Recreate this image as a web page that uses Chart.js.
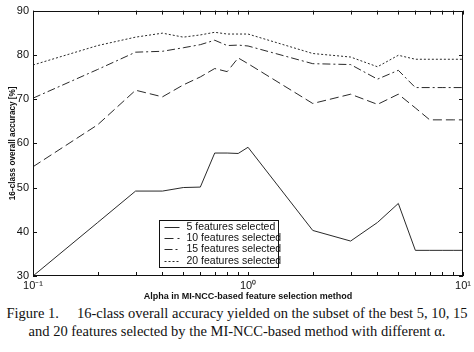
<!DOCTYPE html>
<html>
<head>
<meta charset="utf-8">
<script src="https://cdn.jsdelivr.net/npm/chart.js@4/dist/chart.umd.min.js"></script>
<style>
  body { margin: 0; background: #fff; }
  #wrap { position: relative; width: 474px; height: 303px; }
  #caption {
    width: 474px; text-align: center; font-family: "Liberation Serif", serif;
    font-size: 14.5px; line-height: 18px; color: #111; white-space: pre;
    margin-top: 1px;
  }
</style>
</head>
<body>
<div id="wrap"><canvas id="accChart"></canvas></div>
<div id="caption">Figure 1.     16-class overall accuracy yielded on the subset of the best 5, 10, 15
and 20 features selected by the MI-NCC-based method with different α.</div>
<script>
// values
const alphas = [0.1, 0.2, 0.3, 0.4, 0.5, 0.6, 0.7, 0.8, 0.9, 1, 2, 3, 4, 5, 6, 7, 8, 9, 10];
const feat5  = [30.0, 42.1, 49.2, 49.2, 50.0, 50.1, 57.8, 57.8, 57.7, 59.1, 40.3, 37.9, 42.1, 46.4, 35.8, 35.8, 35.8, 35.8, 35.8];
const feat10 = [54.7, 64.2, 72.0, 70.5, 73.2, 75.0, 76.9, 76.2, 79.3, 78.0, 69.0, 71.1, 68.8, 71.1, 68.0, 65.3, 65.3, 65.3, 65.3];
const feat15 = [70.2, 76.7, 80.6, 80.8, 81.6, 82.3, 83.3, 82.1, 82.2, 82.0, 78.0, 77.8, 74.5, 76.5, 72.6, 72.6, 72.6, 72.6, 72.6];
const feat20 = [77.7, 82.1, 84.0, 84.9, 84.0, 84.5, 85.1, 84.7, 84.7, 84.7, 80.3, 79.5, 77.3, 79.9, 79.0, 79.0, 79.0, 79.0, 79.0];
const seriesNames = ['5 features selected', '10 features selected', '15 features selected', '20 features selected'];
const xTicks = [0.1, 0.2, 0.3, 0.4, 0.5, 0.6, 0.7, 0.8, 0.9, 1, 2, 3, 4, 5, 6, 7, 8, 9, 10];
const xTickLabels = { 0.1: '10⁻¹', 1: '10⁰', 10: '10¹' };
const yTicks = [30, 40, 50, 60, 70, 80, 90];

const dashes = [[], [9, 4], [8, 3, 2, 3], [2, 2]];
const lineColor = '#2a2a2a';

function pts(vals) {
    return alphas.map((a, i) => ({ x: a, y: vals[i] }));
}

// matlab style box, inward ticks and legend inside the axes
const matlabFrame = {
    id: 'matlabFrame',
    afterDraw(chart) {
        const { ctx, chartArea: a, scales } = chart;
        ctx.save();
        ctx.strokeStyle = '#111';
        ctx.lineWidth = 1;
        ctx.setLineDash([]);
        ctx.strokeRect(Math.round(a.left) + 0.5, Math.round(a.top) + 0.5,
                       Math.round(a.width) - 1, Math.round(a.height) - 1);
        ctx.beginPath();
        scales.x.ticks.forEach(t => {
            const px = Math.round(scales.x.getPixelForValue(t.value)) + 0.5;
            ctx.moveTo(px, a.bottom); ctx.lineTo(px, a.bottom - 4);
            ctx.moveTo(px, a.top); ctx.lineTo(px, a.top + 4);
        });
        scales.y.ticks.forEach(t => {
            const py = Math.round(scales.y.getPixelForValue(t.value)) + 0.5;
            ctx.moveTo(a.left, py); ctx.lineTo(a.left + 4, py);
            ctx.moveTo(a.right, py); ctx.lineTo(a.right - 4, py);
        });
        ctx.stroke();

        // legend box
        const bx = Math.round(a.left + 126) + 0.5, by = Math.round(a.top + 209) + 0.5;
        const bw = 119, bh = 47;
        ctx.fillStyle = '#fff';
        ctx.fillRect(bx, by, bw, bh);
        ctx.strokeRect(bx, by, bw, bh);
        ctx.font = '10.5px "Liberation Sans", Arial, sans-serif';
        ctx.textBaseline = 'middle';
        chart.data.datasets.forEach((ds, i) => {
            const ly = Math.round(by + 6.5 + i * 11.2) + 0.5;
            ctx.strokeStyle = lineColor;
            ctx.setLineDash(ds.borderDash);
            ctx.beginPath();
            ctx.moveTo(bx + 5, ly); ctx.lineTo(bx + 20, ly);
            ctx.stroke();
            ctx.setLineDash([]);
            ctx.fillStyle = '#111';
            ctx.fillText(ds.label, bx + 27, ly);
        });
        ctx.restore();
    }
};

const ctx = document.getElementById('accChart').getContext('2d');
Chart.defaults.font.family = '"Liberation Sans", Arial, sans-serif';
Chart.defaults.color = '#111';

const accChart = new Chart(ctx, {
    type: 'line',
    data: {
        datasets: [feat5, feat10, feat15, feat20].map((vals, i) => ({
            label: seriesNames[i],
            data: pts(vals),
            borderColor: lineColor,
            borderWidth: 1,
            borderDash: dashes[i],
            pointRadius: 0,
            tension: 0,
            fill: false
        }))
    },
    options: {
        responsive: true,
        maintainAspectRatio: false,
        animation: false,
        layout: { padding: { top: 8, right: 7, left: 0, bottom: 0 } },
        scales: {
            x: {
                type: 'logarithmic',
                min: 0.1,
                max: 10,
                afterBuildTicks: s => { s.ticks = xTicks.map(v => ({ value: v })); },
                afterFit: s => { s.height = 27; },
                grid: { display: false, drawTicks: false },
                border: { display: false },
                ticks: {
                    autoSkip: false,
                    maxRotation: 0,
                    padding: 3,
                    font: { size: 11 },
                    callback: v => xTickLabels[v] || ''
                },
                title: {
                    display: true,
                    text: 'Alpha in MI-NCC-based feature selection method',
                    font: { size: 9, weight: 'bold' },
                    padding: { top: 0, bottom: 1 }
                }
            },
            y: {
                min: 30,
                max: 90,
                afterBuildTicks: s => { s.ticks = yTicks.map(v => ({ value: v })); },
                afterFit: s => { s.width = 33; },
                grid: { display: false, drawTicks: false },
                border: { display: false },
                ticks: { padding: 4, font: { size: 11 } },
                title: {
                    display: true,
                    text: '16-class overall accuracy [%]',
                    font: { size: 8.2, weight: 'bold' },
                    padding: { top: 8, bottom: 0 }
                }
            }
        },
        plugins: {
            legend: { display: false },
            tooltip: { enabled: false }
        }
    },
    plugins: [matlabFrame]
});
</script>
</body>
</html>
